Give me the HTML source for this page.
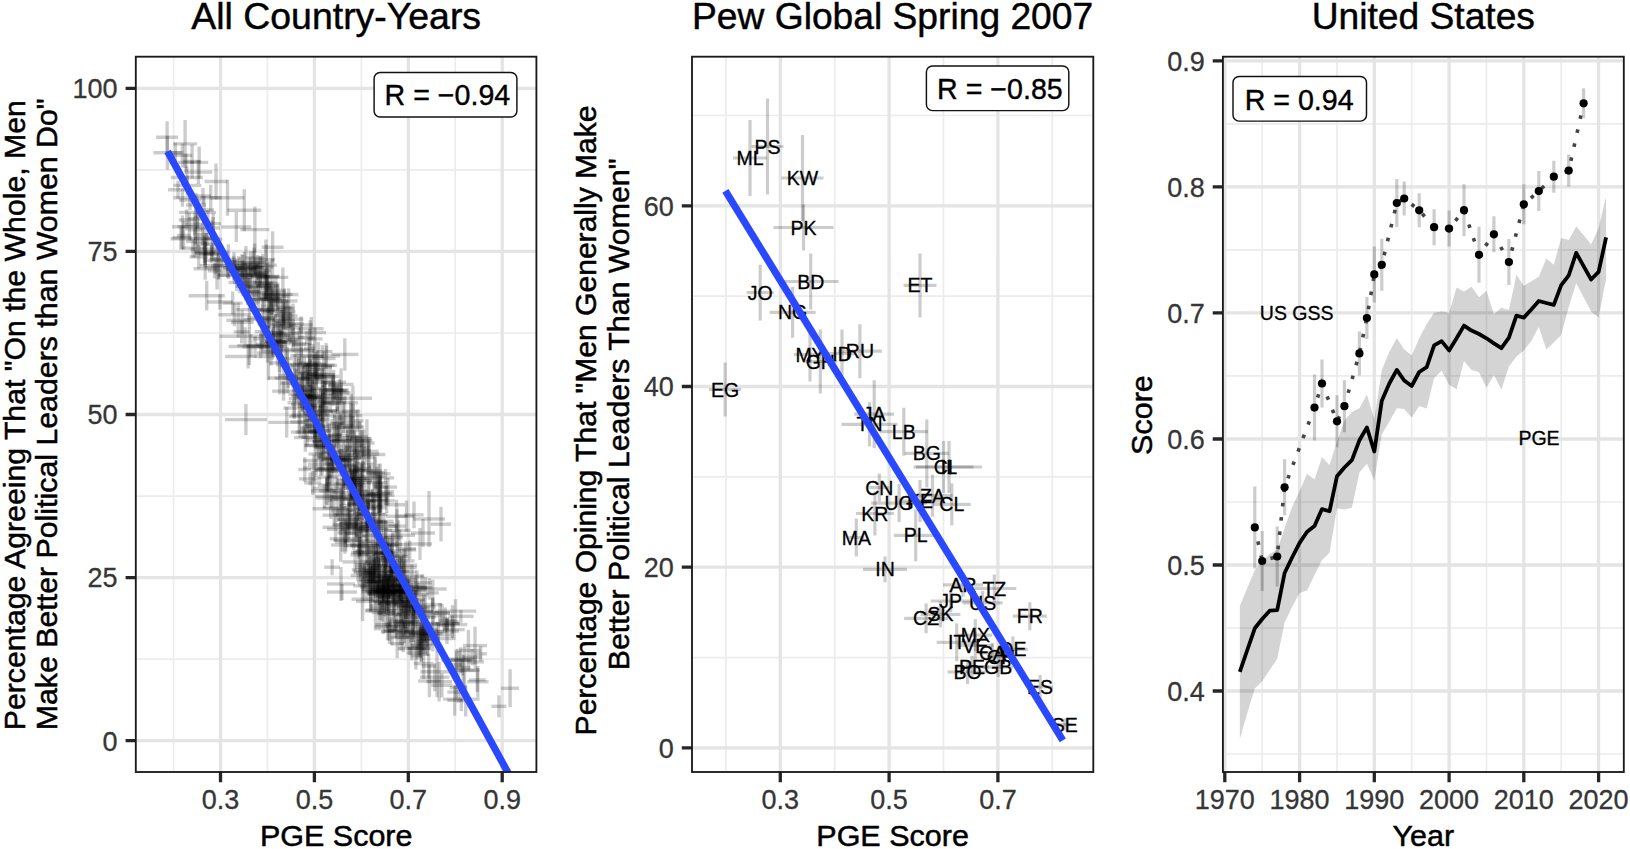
<!DOCTYPE html>
<html lang="en"><head><meta charset="utf-8"><title>Figure</title>
<style>html,body{margin:0;padding:0;background:#fff}svg{display:block}text{stroke-linejoin:round}.b8{stroke:#000;stroke-width:.45px}.b7{stroke:#000;stroke-width:.5px}.b6{stroke:#000;stroke-width:.4px}.bt{stroke-width:.3px}.b4{stroke:#000;stroke-width:.3px}</style></head>
<body>
<svg width="1630" height="849" viewBox="0 0 1630 849" font-family='"Liberation Sans", Arial, Helvetica, sans-serif'>
<rect width="1630" height="849" fill="#fff"/>
<clipPath id="c1"><rect x="135.8" y="56.7" width="400.6" height="715.3"/></clipPath>
<g clip-path="url(#c1)">
<path d="M173.6 56.7V772M267.5 56.7V772M361.4 56.7V772M455.2 56.7V772M135.8 659.2H536.5M135.8 496.1H536.5M135.8 333H536.5M135.8 169.9H536.5" stroke="#ececec" stroke-width="1.7" fill="none"/>
<path d="M220.5 56.7V772M314.4 56.7V772M408.3 56.7V772M502.2 56.7V772M135.8 740.7H536.5M135.8 577.6H536.5M135.8 414.5H536.5M135.8 251.4H536.5M135.8 88.3H536.5" stroke="#e4e4e4" stroke-width="3.3" fill="none"/>
</g>
<g clip-path="url(#c1)" stroke="#000" stroke-opacity="0.2" stroke-width="3.4" fill="none">
<path d="M156.1 137.3h22"/><path d="M167.1 121.3v32"/>
<path d="M153.4 152.7h28"/><path d="M167.4 135.7v34"/>
<path d="M173.1 143.9h24"/><path d="M185.1 119.9v48"/>
<path d="M167.4 152.7h16"/><path d="M175.4 142.7v20"/>
<path d="M172.4 155.4h20"/><path d="M182.4 143.4v24"/>
<path d="M183.1 161.5h18"/><path d="M192.1 144.5v34"/>
<path d="M190.2 162.4h18"/><path d="M199.2 146.4v32"/>
<path d="M178 162.4h16"/><path d="M186 153.4v18"/>
<path d="M184.3 172.1h28"/><path d="M198.3 160.1v24"/>
<path d="M170.8 177.5h32"/><path d="M186.8 166.5v22"/>
<path d="M173.3 185.4h28"/><path d="M187.3 175.4v20"/>
<path d="M168 189.8h20"/><path d="M178 180.8v18"/>
<path d="M173.4 197.8h18"/><path d="M182.4 188.8v18"/>
<path d="M204.5 181.5h23"/><path d="M216 163.5v36"/>
<path d="M210.5 197.8h34"/><path d="M227.5 179.8v36"/>
<path d="M227.3 210.2h34"/><path d="M244.3 189.2v42"/>
<path d="M240.4 229.6h29"/><path d="M254.9 206.6v46"/>
<path d="M221.3 227h30"/><path d="M236.3 212v30"/>
<path d="M199.7 197.8h22"/><path d="M210.7 184.8v26"/>
<path d="M195 196h16"/><path d="M203 188v16"/>
<path d="M261.6 247.3h22"/><path d="M272.6 231.3v32"/>
<path d="M186 205h20"/><path d="M196 193v24"/>
<path d="M194 210h20"/><path d="M204 196v28"/>
<path d="M179 200h22"/><path d="M190 190v20"/>
<path d="M176.8 235.5h13.6"/><path d="M183.6 221.5v28.1"/>
<path d="M171.9 226.8h21.3"/><path d="M182.5 215.6v22.4"/>
<path d="M179.1 212.4h37"/><path d="M197.6 196.3v32.2"/>
<path d="M190.4 249.2h27.9"/><path d="M204.4 235.7v27"/>
<path d="M188.3 229.7h14.3"/><path d="M195.4 215.7v28"/>
<path d="M189.2 238.5h17.1"/><path d="M197.8 229.4v18.1"/>
<path d="M225.5 269.5h19.2"/><path d="M235.2 260v18.9"/>
<path d="M206.4 238.3h11.2"/><path d="M212 220.5v35.5"/>
<path d="M205 267.6h23.9"/><path d="M217 245.7v43.9"/>
<path d="M207.9 270.7h13.4"/><path d="M214.6 263v15.4"/>
<path d="M170.6 238.7h20.8"/><path d="M180.9 227.8v21.8"/>
<path d="M195.8 228h24"/><path d="M207.8 210.1v35.7"/>
<path d="M185.4 224.1h18.8"/><path d="M194.8 212.8v22.7"/>
<path d="M181.8 248.1h22.3"/><path d="M193 238.5v19.2"/>
<path d="M172.6 237.7h18.9"/><path d="M182 226.2v23"/>
<path d="M186.1 241.5h18.2"/><path d="M195.2 225.4v32.2"/>
<path d="M178.7 220h15.9"/><path d="M186.7 209.4v21.2"/>
<path d="M193.6 268.8h23.1"/><path d="M205.2 257.8v22"/>
<path d="M206.1 260.3h24.2"/><path d="M218.3 240.9v38.8"/>
<path d="M205.4 223.6h15.6"/><path d="M213.2 213.3v20.7"/>
<path d="M187.9 218.8h19.3"/><path d="M197.5 208.9v19.8"/>
<path d="M195.1 253.3h20.2"/><path d="M205.2 241.9v22.9"/>
<path d="M204.1 239.1h18.1"/><path d="M213.1 216.9v44.4"/>
<path d="M177.3 226.6h24.1"/><path d="M189.3 212.7v27.9"/>
<path d="M195 252.8h33.6"/><path d="M211.8 246.3v13"/>
<path d="M194.2 251.9h21.7"/><path d="M205.1 238.8v26.3"/>
<path d="M203.4 254.1h16.1"/><path d="M211.4 244.7v18.7"/>
<path d="M196.9 234.6h11.2"/><path d="M202.5 223.5v22.1"/>
<path d="M193.3 244.1h25.4"/><path d="M206.1 233.1v22"/>
<path d="M209.9 259.4h23.6"/><path d="M221.7 252.9v13"/>
<path d="M189.4 256.9h18.7"/><path d="M198.7 245v23.8"/>
<path d="M221.8 261.7h13.1"/><path d="M228.4 244.3v34.8"/>
<path d="M194 238.3h20.6"/><path d="M204.3 226.4v23.9"/>
<path d="M199 254.1h12.3"/><path d="M205.2 241v26.2"/>
<path d="M224.6 262.7h18.8"/><path d="M234 252.2v20.9"/>
<path d="M227.3 268.3h24.8"/><path d="M239.7 257.6v21.3"/>
<path d="M199.7 265.6h31.2"/><path d="M215.3 257.1v17.1"/>
<path d="M229 270.7h11"/><path d="M234.5 257.5v26.4"/>
<path d="M232.5 268.7h23.8"/><path d="M244.4 251.7v34"/>
<path d="M211 265.7h15.4"/><path d="M218.7 252.5v26.3"/>
<path d="M218.5 275.3h48.8"/><path d="M242.9 254.8v41.1"/>
<path d="M223.1 268h20.9"/><path d="M233.6 255.8v24.4"/>
<path d="M230.3 267.4h31.3"/><path d="M245.9 245.9v42.9"/>
<path d="M220.5 271.3h14.5"/><path d="M227.8 264.6v13.4"/>
<path d="M228.7 346.5h41.1"/><path d="M249.3 327.8v37.3"/>
<path d="M237.3 345.6h27.4"/><path d="M250.9 334.2v22.9"/>
<path d="M230.9 322.2h22.7"/><path d="M242.2 310.2v24"/>
<path d="M242.4 347h25.5"/><path d="M255.1 336.2v21.6"/>
<path d="M254.9 331.6h18.2"/><path d="M264 321v21.4"/>
<path d="M219.4 336.3h51.3"/><path d="M245.1 327.2v18.2"/>
<path d="M225.2 356.5h45.9"/><path d="M248.1 344.5v24"/>
<path d="M218.3 314.7h32.1"/><path d="M234.3 303.3v22.9"/>
<path d="M257 353.1h22.8"/><path d="M268.4 325.9v54.2"/>
<path d="M207.1 302h25.5"/><path d="M219.9 294.4v15.2"/>
<path d="M226.4 320.2h23.6"/><path d="M238.2 302.8v34.8"/>
<path d="M233.8 331.9h15.8"/><path d="M241.7 320.3v23.3"/>
<path d="M246.8 346h27.8"/><path d="M260.7 334v24"/>
<path d="M188.6 295.7h36.2"/><path d="M206.7 280.8v29.8"/>
<path d="M222.8 303.1h19.8"/><path d="M232.7 291.5v23.1"/>
<path d="M236.3 309.6h26.3"/><path d="M249.5 290.9v37.4"/>
<path d="M320.9 458.7h17.1"/><path d="M329.5 433.5v50.4"/>
<path d="M275.6 323.7h28.3"/><path d="M289.8 306.6v34.3"/>
<path d="M343.4 484.8h17.1"/><path d="M352 472.2v25.1"/>
<path d="M382.9 537.5h20"/><path d="M392.9 531v13"/>
<path d="M310.7 374.9h23.9"/><path d="M322.6 362.4v25"/>
<path d="M377.4 613.9h24.6"/><path d="M389.7 600.6v26.6"/>
<path d="M396.8 623.7h21.5"/><path d="M407.6 609.2v29"/>
<path d="M250.9 292.9h30.4"/><path d="M266.1 286.4v13"/>
<path d="M225.1 265.6h33.1"/><path d="M241.7 254.6v22"/>
<path d="M358.8 552.3h34.2"/><path d="M375.9 530.5v43.6"/>
<path d="M408.8 609.5h14.8"/><path d="M416.2 599.4v20.2"/>
<path d="M364.3 561.5h27.7"/><path d="M378.1 543.8v35.4"/>
<path d="M357 582h26.2"/><path d="M370.1 568.7v26.5"/>
<path d="M352 527h17.5"/><path d="M360.7 520.5v13"/>
<path d="M430.8 524.2h20.3"/><path d="M441 506.9v34.5"/>
<path d="M259.3 334.9h28.2"/><path d="M273.4 323v23.8"/>
<path d="M373.6 553.4h24.2"/><path d="M385.8 536.4v34"/>
<path d="M350.8 436.8h17.3"/><path d="M359.5 421.3v31.2"/>
<path d="M341.2 486.7h21.5"/><path d="M352 473.6v26.2"/>
<path d="M363.5 570.7h14.4"/><path d="M370.7 555.6v30.1"/>
<path d="M300.2 391.6h13.1"/><path d="M306.8 374.2v34.8"/>
<path d="M259.7 321h14.8"/><path d="M267.1 308.4v25.2"/>
<path d="M386.5 567.6h30.2"/><path d="M401.5 548.8v37.6"/>
<path d="M367.6 528.1h20.7"/><path d="M378 517.9v20.6"/>
<path d="M415.3 638.4h24.4"/><path d="M427.5 621.2v34.4"/>
<path d="M260 298.4h21.9"/><path d="M271 281.7v33.5"/>
<path d="M396.9 585.1h16.5"/><path d="M405.1 570.6v29"/>
<path d="M323.3 458.1h17.6"/><path d="M332.1 446.4v23.4"/>
<path d="M243.1 262.3h21"/><path d="M253.6 250.9v22.7"/>
<path d="M371.8 521.5h14.5"/><path d="M379 503.2v36.5"/>
<path d="M298.9 328.7h24.7"/><path d="M311.3 317v23.5"/>
<path d="M393.1 621.8h25.2"/><path d="M405.7 610.9v21.8"/>
<path d="M374.5 581.3h36.3"/><path d="M392.6 566.3v29.9"/>
<path d="M366.8 493.5h23.6"/><path d="M378.6 480.1v26.8"/>
<path d="M389.4 586.4h11.9"/><path d="M395.3 573.3v26.2"/>
<path d="M346.9 509.4h14.4"/><path d="M354.1 502.9v13"/>
<path d="M384.7 602h26.9"/><path d="M398.2 595.5v13"/>
<path d="M361.4 543.4h28.4"/><path d="M375.6 526.3v34.1"/>
<path d="M289.4 324.9h23.4"/><path d="M301.1 316.2v17.3"/>
<path d="M241.3 291.4h22.3"/><path d="M252.5 275.7v31.4"/>
<path d="M350.5 554.9h17.7"/><path d="M359.3 537v35.8"/>
<path d="M330.7 428h18.8"/><path d="M340.1 414.7v26.5"/>
<path d="M375.3 577.9h20.1"/><path d="M385.3 564.8v26.1"/>
<path d="M335.8 459.6h18.6"/><path d="M345 443.7v31.9"/>
<path d="M349.5 502.6h20.3"/><path d="M359.6 486.1v33.1"/>
<path d="M228.5 282.5h28.3"/><path d="M242.6 271v22.9"/>
<path d="M332.9 390.8h13.5"/><path d="M339.6 379.2v23.2"/>
<path d="M371.8 612.6h14.8"/><path d="M379.1 594.7v35.9"/>
<path d="M337 427.2h27.2"/><path d="M350.6 413.8v26.9"/>
<path d="M276.4 307.4h15.3"/><path d="M284 290.7v33.4"/>
<path d="M292.8 376.7h33.3"/><path d="M309.4 369.9v13.6"/>
<path d="M351.8 569.9h17"/><path d="M360.3 563.4v13"/>
<path d="M235.5 286.4h26.6"/><path d="M248.7 277.9v17"/>
<path d="M373.2 593.1h21.2"/><path d="M383.8 583.8v18.6"/>
<path d="M350.8 546h18.3"/><path d="M360 536.6v18.8"/>
<path d="M390.5 571.4h18.9"/><path d="M400 560.7v21.4"/>
<path d="M411.4 645.5h17.8"/><path d="M420.3 634.5v22"/>
<path d="M291.4 395.7h21.3"/><path d="M302.1 380.5v30.5"/>
<path d="M349.6 491.8h23.9"/><path d="M361.5 484v15.6"/>
<path d="M372.5 570.8h27.5"/><path d="M386.3 556.9v27.9"/>
<path d="M417.1 639.3h14.7"/><path d="M424.4 622.5v33.6"/>
<path d="M237.3 275.6h15.9"/><path d="M245.3 263v25.2"/>
<path d="M318.2 389.6h14.5"/><path d="M325.4 375.7v27.6"/>
<path d="M324.2 567.2h15.7"/><path d="M332.1 559.2v16.1"/>
<path d="M368.5 493.8h23.9"/><path d="M380.4 475.3v37"/>
<path d="M365.4 577.6h14.6"/><path d="M372.7 564.7v25.9"/>
<path d="M346.1 545.8h33.9"/><path d="M363 538.6v14.4"/>
<path d="M396.7 605.7h19"/><path d="M406.3 592.1v27.1"/>
<path d="M390.4 637.5h25.5"/><path d="M403.2 622.8v29.4"/>
<path d="M358.4 454.3h20.7"/><path d="M368.8 436.6v35.4"/>
<path d="M311.3 407.7h17"/><path d="M319.8 394.2v26.9"/>
<path d="M411.3 629.9h26.6"/><path d="M424.6 620.4v19"/>
<path d="M385.9 516.3h21.5"/><path d="M396.6 499.8v33.1"/>
<path d="M269.1 324.7h26.6"/><path d="M282.4 315.4v18.6"/>
<path d="M305.7 415.9h29.9"/><path d="M320.6 404.8v22.2"/>
<path d="M353.8 476.3h30.4"/><path d="M369 463.2v26.2"/>
<path d="M304 348.3h11"/><path d="M309.5 328.9v38.8"/>
<path d="M271.5 340.2h19.9"/><path d="M281.4 323.6v33.2"/>
<path d="M395.5 634.8h11"/><path d="M401 619.2v31.3"/>
<path d="M362.6 572.7h12.8"/><path d="M369 563.5v18.4"/>
<path d="M365.7 610h19.7"/><path d="M375.5 589.5v41"/>
<path d="M401.7 607.4h25.6"/><path d="M414.5 593.4v27.9"/>
<path d="M366.5 473.8h24.1"/><path d="M378.6 463.7v20.2"/>
<path d="M238.3 291.6h22.4"/><path d="M249.5 277.8v27.7"/>
<path d="M308 464.4h25.3"/><path d="M320.7 452.7v23.4"/>
<path d="M275.1 314h16.4"/><path d="M283.3 302v24"/>
<path d="M408.9 594.8h19.4"/><path d="M418.6 583v23.6"/>
<path d="M379.4 553h15.7"/><path d="M387.2 539.5v27.1"/>
<path d="M265.5 342h21.6"/><path d="M276.3 335.5v13"/>
<path d="M370 605.8h24.2"/><path d="M382.1 590.2v31.3"/>
<path d="M332.7 467h25.8"/><path d="M345.6 455.5v22.9"/>
<path d="M364.8 563.2h15.9"/><path d="M372.7 543.8v38.8"/>
<path d="M238.7 287.8h18.2"/><path d="M247.8 270.7v34.2"/>
<path d="M291.8 344.4h18.8"/><path d="M301.2 324.9v39"/>
<path d="M317.8 468.6h29"/><path d="M332.3 454.7v27.8"/>
<path d="M392.6 594.4h13.1"/><path d="M399.2 587.9v13"/>
<path d="M303.8 397.2h17.3"/><path d="M312.5 379.8v34.7"/>
<path d="M264.9 340.9h17.2"/><path d="M273.5 324.2v33.4"/>
<path d="M347.8 504.5h22.2"/><path d="M358.9 492.7v23.7"/>
<path d="M316.1 498h31"/><path d="M331.6 488v20"/>
<path d="M266.4 341.7h30.2"/><path d="M281.6 331.3v20.9"/>
<path d="M332.7 492.6h22"/><path d="M343.7 480.2v24.7"/>
<path d="M366.1 477.9h28.1"/><path d="M380.2 463.6v28.6"/>
<path d="M346 488.2h11"/><path d="M351.5 478.1v20.1"/>
<path d="M296.9 378.2h11"/><path d="M302.4 364.1v28.2"/>
<path d="M313.9 447.7h19.7"/><path d="M323.7 434.7v26"/>
<path d="M317.8 485.1h17.8"/><path d="M326.7 478.6v13"/>
<path d="M290.2 355.7h22.3"/><path d="M301.4 346.7v18"/>
<path d="M302.5 396.1h14.9"/><path d="M310 384.9v22.4"/>
<path d="M362.3 507.9h24.4"/><path d="M374.5 489.4v37.1"/>
<path d="M384.9 624.3h55.5"/><path d="M412.7 613.2v22.1"/>
<path d="M347 528.4h19.9"/><path d="M357 514.6v27.7"/>
<path d="M341.3 431.8h13.1"/><path d="M347.8 423.7v16.4"/>
<path d="M344.3 447.5h24.8"/><path d="M356.7 435.8v23.4"/>
<path d="M273 326.1h21.6"/><path d="M283.8 308.4v35.5"/>
<path d="M312.8 356.4h11"/><path d="M318.3 341.9v29"/>
<path d="M406.8 603.3h16"/><path d="M414.8 595.2v16.2"/>
<path d="M381 631.2h21.8"/><path d="M392 617.2v28.1"/>
<path d="M325.7 458.1h35.3"/><path d="M343.4 440v36.3"/>
<path d="M395.9 579.7h11"/><path d="M401.4 558.4v42.6"/>
<path d="M398.4 516.2h16.2"/><path d="M406.5 500.6v31.2"/>
<path d="M367.5 573.4h23"/><path d="M379 563.9v19"/>
<path d="M391.3 572h25.3"/><path d="M403.9 548.7v46.5"/>
<path d="M349.8 497.3h16.3"/><path d="M357.9 477.9v38.7"/>
<path d="M408.7 634.7h24.9"/><path d="M421.1 626.2v17"/>
<path d="M253.2 338.8h18"/><path d="M262.2 328.1v21.4"/>
<path d="M388.8 630.9h12.8"/><path d="M395.2 623.9v14.1"/>
<path d="M326.4 424h16.1"/><path d="M334.4 414.3v19.4"/>
<path d="M353.3 513.8h19.1"/><path d="M362.9 507.3v13"/>
<path d="M381.4 594.9h11"/><path d="M386.9 578.4v33.2"/>
<path d="M390.5 643.7h13.5"/><path d="M397.2 629.2v29"/>
<path d="M282.6 319.2h20.9"/><path d="M293 303.6v31.1"/>
<path d="M322.5 527.3h26"/><path d="M335.5 513.5v27.8"/>
<path d="M368.6 592.5h36.6"/><path d="M386.9 574v36.9"/>
<path d="M376.2 556.6h21.1"/><path d="M386.8 545.9v21.3"/>
<path d="M331.7 510.4h21.3"/><path d="M342.4 490v40.9"/>
<path d="M342 411.1h18.3"/><path d="M351.1 394.1v34"/>
<path d="M350 544.8h18.6"/><path d="M359.3 532.7v24.2"/>
<path d="M324.5 390.1h24.5"/><path d="M336.8 382.4v15.5"/>
<path d="M305.5 425.8h19.2"/><path d="M315.1 414.9v21.7"/>
<path d="M290.9 432.1h25.6"/><path d="M303.7 425.6v13"/>
<path d="M356.8 469.1h11.8"/><path d="M362.7 461.1v16"/>
<path d="M251.3 294.9h28.8"/><path d="M265.7 288.4v13"/>
<path d="M387.3 630.1h26.7"/><path d="M400.6 615.2v29.8"/>
<path d="M360.9 522.4h26.7"/><path d="M374.3 507.2v30.4"/>
<path d="M369.9 501h17.6"/><path d="M378.7 488.7v24.5"/>
<path d="M393.7 622.8h20"/><path d="M403.7 608.9v27.7"/>
<path d="M256.9 346.5h30.6"/><path d="M272.2 333.4v26.2"/>
<path d="M312.6 376.9h22.6"/><path d="M324 365.8v22.1"/>
<path d="M366.6 482.7h20.8"/><path d="M377 466.8v31.7"/>
<path d="M261.6 351.9h18.8"/><path d="M271 338.1v27.5"/>
<path d="M255.7 265.2h21.2"/><path d="M266.3 244.5v41.4"/>
<path d="M337 519.1h26.3"/><path d="M350.1 510.4v17.4"/>
<path d="M343.4 426.5h19.3"/><path d="M353.1 415.9v21.2"/>
<path d="M301.3 437.3h31"/><path d="M316.8 428.2v18.2"/>
<path d="M359.2 514.3h28.4"/><path d="M373.4 504.4v19.8"/>
<path d="M322.5 515.2h31.2"/><path d="M338.1 508.7v13"/>
<path d="M328.4 384.4h25.2"/><path d="M341.1 368.3v32.2"/>
<path d="M260.9 306h16.8"/><path d="M269.4 283.3v45.4"/>
<path d="M338.5 457.9h22.7"/><path d="M349.8 445.8v24.3"/>
<path d="M329.2 459.7h20.4"/><path d="M339.4 448.3v22.8"/>
<path d="M383.3 631.3h11"/><path d="M388.8 621.8v19"/>
<path d="M349.9 438.7h21.8"/><path d="M360.8 430.3v17"/>
<path d="M348.5 445.9h17"/><path d="M357 435.3v21.2"/>
<path d="M266.4 335.8h23.7"/><path d="M278.2 326.1v19.4"/>
<path d="M349.2 470.6h16.5"/><path d="M357.4 459.1v23.1"/>
<path d="M360.2 587.1h18.6"/><path d="M369.5 578.7v16.7"/>
<path d="M403.1 549.9h13.2"/><path d="M409.7 540.5v18.8"/>
<path d="M409 640.6h22.9"/><path d="M420.5 622.7v35.9"/>
<path d="M294.3 332.6h31.7"/><path d="M310.2 320.3v24.6"/>
<path d="M329.6 538.8h25.6"/><path d="M342.4 525.8v25.9"/>
<path d="M292 379.4h30.6"/><path d="M307.3 362.9v33"/>
<path d="M356.3 579.3h33.9"/><path d="M373.2 563v32.6"/>
<path d="M370.7 568.2h15.5"/><path d="M378.4 556.8v22.9"/>
<path d="M397.4 632.9h25.2"/><path d="M410 610.7v44.4"/>
<path d="M402.1 582.8h29.7"/><path d="M417 570.4v24.6"/>
<path d="M376.8 575.6h16.6"/><path d="M385.1 562.6v26"/>
<path d="M324.5 440.6h24"/><path d="M336.5 425v31.3"/>
<path d="M395.8 548.8h20.1"/><path d="M405.9 541.4v14.8"/>
<path d="M343.2 498.9h23.5"/><path d="M354.9 485.5v26.8"/>
<path d="M404.1 617.2h31.7"/><path d="M420 608.1v18.2"/>
<path d="M261.3 301.8h21.5"/><path d="M272.1 288.4v26.8"/>
<path d="M330.7 499.6h22.1"/><path d="M341.7 484.4v30.3"/>
<path d="M317 469h20.2"/><path d="M327.1 447.4v43.2"/>
<path d="M302.4 366.9h29.6"/><path d="M317.2 350.5v32.8"/>
<path d="M291.8 390.1h20.2"/><path d="M301.9 372.2v35.8"/>
<path d="M303 407.2h13.8"/><path d="M309.9 393.9v26.6"/>
<path d="M306.4 426.5h34.1"/><path d="M323.5 415.9v21.2"/>
<path d="M395.1 589.4h11"/><path d="M400.6 577.9v23"/>
<path d="M331.6 412.2h25.7"/><path d="M344.5 395.7v32.9"/>
<path d="M281.5 327.9h18.2"/><path d="M290.6 312.3v31.2"/>
<path d="M315 401.9h16"/><path d="M323.1 390.4v23.1"/>
<path d="M414 641.8h14.9"/><path d="M421.5 621.7v40.1"/>
<path d="M249.7 270.8h21.1"/><path d="M260.2 256.3v29"/>
<path d="M300.2 428.3h28.9"/><path d="M314.7 418.6v19.5"/>
<path d="M308.4 377h15.4"/><path d="M316 363.1v27.9"/>
<path d="M316.9 411h20.1"/><path d="M327 394.8v32.4"/>
<path d="M366.6 472.9h16.2"/><path d="M374.7 455.5v34.8"/>
<path d="M375.2 624.7h16.1"/><path d="M383.2 615.1v19.1"/>
<path d="M355.1 495.6h26.1"/><path d="M368.2 481.8v27.5"/>
<path d="M311.5 414.8h18.3"/><path d="M320.6 405.3v19.1"/>
<path d="M332.2 496.9h11"/><path d="M337.7 478.3v37.1"/>
<path d="M351 552.6h31.7"/><path d="M366.9 521.2v62.8"/>
<path d="M314.9 496.3h18.9"/><path d="M324.4 484.3v24"/>
<path d="M394.3 603.7h19.8"/><path d="M404.2 585.9v35.6"/>
<path d="M405.7 606.7h16.1"/><path d="M413.7 597.5v18.5"/>
<path d="M328.2 402.9h18.1"/><path d="M337.3 394.6v16.5"/>
<path d="M280.2 383.1h14.8"/><path d="M287.6 372.8v20.8"/>
<path d="M410.7 645.2h20.7"/><path d="M421.1 628.9v32.8"/>
<path d="M372.7 565.8h22.6"/><path d="M384 549.1v33.5"/>
<path d="M389.8 605.1h23.1"/><path d="M401.4 588.9v32.4"/>
<path d="M390.8 572.4h11"/><path d="M396.3 563.1v18.6"/>
<path d="M269.6 362.9h19.8"/><path d="M279.5 353.6v18.7"/>
<path d="M355.8 550.9h22.2"/><path d="M366.9 538.8v24.2"/>
<path d="M287.5 402.8h13.5"/><path d="M294.2 386.3v33"/>
<path d="M341.6 472.5h20.8"/><path d="M352 463.1v18.7"/>
<path d="M417.5 644.1h20.3"/><path d="M427.7 632.1v24"/>
<path d="M372 483.9h11.5"/><path d="M377.7 474.7v18.4"/>
<path d="M327 436.2h14.1"/><path d="M334 421.9v28.6"/>
<path d="M351.7 420.7h11.9"/><path d="M357.6 409.7v22.1"/>
<path d="M378.9 544.9h13.2"/><path d="M385.5 528.1v33.6"/>
<path d="M253 282.6h11"/><path d="M258.5 261.6v41.9"/>
<path d="M390.5 583.7h15.5"/><path d="M398.3 570.2v27"/>
<path d="M283.4 408.1h21.6"/><path d="M294.2 398.7v18.7"/>
<path d="M398.6 632.1h11.6"/><path d="M404.4 620.9v22.4"/>
<path d="M304.5 424.3h11"/><path d="M310 415.7v17.2"/>
<path d="M379.9 555.4h19.8"/><path d="M389.8 538.4v33.8"/>
<path d="M255 282.9h18.8"/><path d="M264.4 269v27.8"/>
<path d="M377.8 591.1h22.5"/><path d="M389.1 576.3v29.7"/>
<path d="M355.4 536.6h11"/><path d="M360.9 520.8v31.5"/>
<path d="M345.3 533.4h17.1"/><path d="M353.8 516.6v33.6"/>
<path d="M381.2 589h32.7"/><path d="M397.6 573.9v30.2"/>
<path d="M314.3 397.2h21.4"/><path d="M325 381.3v31.8"/>
<path d="M329.1 471.3h29.8"/><path d="M344 457.5v27.7"/>
<path d="M301 395.5h18.5"/><path d="M310.3 384.6v21.9"/>
<path d="M290.4 365h28.2"/><path d="M304.5 356.9v16.1"/>
<path d="M400.1 611.1h15.5"/><path d="M407.8 596v30.3"/>
<path d="M341.5 437.7h20.1"/><path d="M351.5 423.7v28"/>
<path d="M361.7 470.8h20.4"/><path d="M371.9 462.4v16.8"/>
<path d="M368.4 504.8h36.6"/><path d="M386.7 496.7v16.3"/>
<path d="M386.8 610.9h24.2"/><path d="M398.8 594.6v32.7"/>
<path d="M265 346.4h18.8"/><path d="M274.4 339.9v13"/>
<path d="M293.1 387h19.8"/><path d="M303 372.9v28.3"/>
<path d="M271.8 301h25.7"/><path d="M284.6 288.6v24.8"/>
<path d="M386.2 556.5h22"/><path d="M397.2 541.1v30.9"/>
<path d="M304.5 364.4h22.2"/><path d="M315.6 351.9v25"/>
<path d="M339 455.3h20.9"/><path d="M349.5 438.9v32.8"/>
<path d="M339.6 522.1h29.5"/><path d="M354.3 509.9v24.4"/>
<path d="M303 467.9h22"/><path d="M314 454.6v26.6"/>
<path d="M331.4 434.6h11"/><path d="M336.9 421.6v26"/>
<path d="M331.4 354.4h26.9"/><path d="M344.8 338.2v32.5"/>
<path d="M388.7 578.2h22"/><path d="M399.7 556.7v42.9"/>
<path d="M241.8 262.8h24.3"/><path d="M254 247.6v30.5"/>
<path d="M272 321h23"/><path d="M283.5 312.6v16.9"/>
<path d="M303.2 419.8h26.7"/><path d="M316.5 410.4v18.7"/>
<path d="M345.4 523.9h22.1"/><path d="M356.4 511.6v24.7"/>
<path d="M288.8 398.8h27.9"/><path d="M302.8 385.6v26.4"/>
<path d="M385.7 590.2h15.9"/><path d="M393.6 565.1v50"/>
<path d="M355 564.6h28.3"/><path d="M369.1 546.2v36.9"/>
<path d="M302 397h20.2"/><path d="M312.1 388.3v17.4"/>
<path d="M394.8 591.7h26"/><path d="M407.7 578.7v26.1"/>
<path d="M409.1 635.4h29.3"/><path d="M423.7 628.9v13"/>
<path d="M307.5 374.3h23.8"/><path d="M319.4 367.8v13"/>
<path d="M338.2 474.8h13.4"/><path d="M344.9 468.3v13"/>
<path d="M245.3 258h18.6"/><path d="M254.6 243.6v29"/>
<path d="M240.6 277.6h11.7"/><path d="M246.5 269.4v16.5"/>
<path d="M292.3 343.9h13.8"/><path d="M299.2 327.5v32.8"/>
<path d="M362.4 535.3h16.3"/><path d="M370.6 523.8v23.1"/>
<path d="M353.6 508.5h11"/><path d="M359.1 495.8v25.5"/>
<path d="M391.8 608.4h18.6"/><path d="M401.1 594.4v28"/>
<path d="M274.1 321.2h12.1"/><path d="M280.1 301.7v39"/>
<path d="M249.8 309.7h28.9"/><path d="M264.2 294.2v31"/>
<path d="M352.7 443.1h21.9"/><path d="M363.6 429.4v27.5"/>
<path d="M335.7 460.6h21.5"/><path d="M346.5 445.1v31"/>
<path d="M247 318h44.1"/><path d="M269 305.8v24.5"/>
<path d="M365.7 472.4h19.1"/><path d="M375.2 457v30.7"/>
<path d="M379.3 567.7h23.6"/><path d="M391.1 553.2v28.9"/>
<path d="M320.4 452.3h27.1"/><path d="M333.9 434.6v35.5"/>
<path d="M378.6 495.3h15.9"/><path d="M386.6 485.7v19.2"/>
<path d="M330.3 423.5h14.1"/><path d="M337.4 406.6v33.9"/>
<path d="M298.3 363h22.8"/><path d="M309.7 355.8v14.5"/>
<path d="M322.3 389.9h21.3"/><path d="M333 378v23.8"/>
<path d="M380.7 557.9h22.4"/><path d="M391.9 543.8v28.3"/>
<path d="M349.5 469.5h11"/><path d="M355 447.6v43.9"/>
<path d="M414 611.6h19.6"/><path d="M423.9 595v33.2"/>
<path d="M419 628.8h11"/><path d="M424.5 614.5v28.5"/>
<path d="M275.6 333.7h23.3"/><path d="M287.3 327.2v13"/>
<path d="M279.4 311.7h16.1"/><path d="M287.5 300v23.3"/>
<path d="M327.7 398.8h19.1"/><path d="M337.2 386.6v24.4"/>
<path d="M344.6 541.3h29.6"/><path d="M359.4 526.5v29.6"/>
<path d="M374.1 487.1h23"/><path d="M385.6 468.9v36.6"/>
<path d="M351.5 599.2h22.1"/><path d="M362.6 577.2v43.9"/>
<path d="M304.4 420.3h14.5"/><path d="M311.6 405.5v29.6"/>
<path d="M312.4 441.6h33.1"/><path d="M329 427.6v28"/>
<path d="M258.2 283.2h17.1"/><path d="M266.7 267.5v31.3"/>
<path d="M337.9 519.3h21.8"/><path d="M348.7 499.6v39.4"/>
<path d="M252.2 273.1h16.4"/><path d="M260.5 256.4v33.5"/>
<path d="M268.3 422.4h36.9"/><path d="M286.7 407.1v30.6"/>
<path d="M320.7 382.1h25.4"/><path d="M333.4 372.8v18.5"/>
<path d="M316.1 365.4h20.9"/><path d="M326.6 345.6v39.6"/>
<path d="M284.5 368.1h20.3"/><path d="M294.6 354.4v27.5"/>
<path d="M288.5 394.6h21.7"/><path d="M299.4 380.9v27.4"/>
<path d="M260.1 309.6h22.3"/><path d="M271.3 301.8v15.6"/>
<path d="M325.5 390.1h17.5"/><path d="M334.2 381.2v17.7"/>
<path d="M352 491h15.2"/><path d="M359.6 476.9v28.2"/>
<path d="M342.1 465.7h13.6"/><path d="M348.9 453v25.3"/>
<path d="M235.7 273.5h28.8"/><path d="M250.1 257.2v32.4"/>
<path d="M243.8 319.5h31.1"/><path d="M259.4 313v13.1"/>
<path d="M330.3 420.6h21.7"/><path d="M341.1 414.1v13"/>
<path d="M388.7 621.3h14.2"/><path d="M395.8 614.8v13"/>
<path d="M251.8 267.1h21.7"/><path d="M262.7 253.8v26.7"/>
<path d="M312.1 351.6h20.4"/><path d="M322.3 345.1v13"/>
<path d="M295.7 394.9h19.8"/><path d="M305.6 380.3v29.2"/>
<path d="M422.8 604.6h19.3"/><path d="M432.5 598.1v13"/>
<path d="M226.5 266h23.5"/><path d="M238.3 256.3v19.4"/>
<path d="M336.4 525h22.4"/><path d="M347.6 507.6v34.8"/>
<path d="M337.2 480.4h12.6"/><path d="M343.5 464.2v32.5"/>
<path d="M332.7 524.8h24.9"/><path d="M345.1 506.2v37.2"/>
<path d="M374.5 544.2h27.6"/><path d="M388.3 537.7v13"/>
<path d="M259.5 298.9h20.9"/><path d="M270 292.4v13"/>
<path d="M374.7 626.9h25.9"/><path d="M387.6 613.7v26.5"/>
<path d="M409 633.4h26.4"/><path d="M422.2 616.4v34"/>
<path d="M380.3 572.2h21.1"/><path d="M390.8 556.4v31.5"/>
<path d="M310.9 491h31.4"/><path d="M326.6 477.2v27.6"/>
<path d="M384.1 630.6h11"/><path d="M389.6 617.2v26.8"/>
<path d="M377.7 535.2h37.4"/><path d="M396.4 523.4v23.6"/>
<path d="M304.1 365.2h11"/><path d="M309.6 343.4v43.6"/>
<path d="M308.1 410.6h29.1"/><path d="M322.7 392.9v35.3"/>
<path d="M267.3 294.6h31.1"/><path d="M282.9 267.4v54.4"/>
<path d="M360.2 508.6h15.7"/><path d="M368.1 489.3v38.7"/>
<path d="M308.5 454h27"/><path d="M322 433v42.1"/>
<path d="M407.9 648.4h23.1"/><path d="M419.5 641.9v13"/>
<path d="M268 378h23.4"/><path d="M279.7 361.5v32.9"/>
<path d="M342.9 478.7h23.5"/><path d="M354.6 465v27.4"/>
<path d="M388.5 526.1h17.1"/><path d="M397 509.3v33.6"/>
<path d="M255.7 276.5h23.4"/><path d="M267.4 262.2v28.6"/>
<path d="M337.2 532.8h16.2"/><path d="M345.3 518.4v28.8"/>
<path d="M359.7 554.2h19.1"/><path d="M369.3 544v20.4"/>
<path d="M340.1 423.3h21.5"/><path d="M350.9 402.8v41"/>
<path d="M347.2 463.8h21.1"/><path d="M357.8 449.5v28.5"/>
<path d="M351.3 494.4h26.6"/><path d="M364.6 486.1v16.6"/>
<path d="M272 333h13.9"/><path d="M279 318.3v29.5"/>
<path d="M385.9 626.7h21.2"/><path d="M396.5 618.5v16.5"/>
<path d="M321 376.5h18.4"/><path d="M330.2 364.7v23.7"/>
<path d="M409.6 633.1h21.2"/><path d="M420.2 626.6v13"/>
<path d="M377.2 612.8h18"/><path d="M386.2 596.9v31.7"/>
<path d="M261.5 318.1h12.9"/><path d="M267.9 307.4v21.3"/>
<path d="M396.9 613.2h11"/><path d="M402.4 596.9v32.8"/>
<path d="M340.8 480.6h31.4"/><path d="M356.5 461.4v38.4"/>
<path d="M356 601.4h29.1"/><path d="M370.6 592.1v18.7"/>
<path d="M346.4 488h17.1"/><path d="M354.9 469.6v36.6"/>
<path d="M333.4 540.4h23.4"/><path d="M345 527v26.8"/>
<path d="M298 373.1h11"/><path d="M303.5 366v14.1"/>
<path d="M339.7 478.5h29.7"/><path d="M354.6 464.4v28.1"/>
<path d="M306.4 440.1h17.6"/><path d="M315.3 432.1v16"/>
<path d="M273.6 342.1h14"/><path d="M280.6 329.6v24.9"/>
<path d="M361.7 568.4h17"/><path d="M370.2 555.8v25.2"/>
<path d="M350.7 500.2h22.7"/><path d="M362.1 480.6v39.3"/>
<path d="M416.9 636.2h19.7"/><path d="M426.7 629.7v13"/>
<path d="M424.1 638.6h28.6"/><path d="M438.4 625v27.2"/>
<path d="M365 500.4h16.8"/><path d="M373.4 492v16.7"/>
<path d="M390.7 544.7h18.3"/><path d="M399.8 529.7v29.9"/>
<path d="M277.5 350.9h37.1"/><path d="M296.1 337.5v26.9"/>
<path d="M302.9 460.6h26.2"/><path d="M316 444.1v32.9"/>
<path d="M335.7 515.3h28.1"/><path d="M349.7 501.4v27.7"/>
<path d="M302.8 431.5h24.4"/><path d="M315 419.3v24.5"/>
<path d="M399.6 576.2h24.6"/><path d="M411.9 564.2v23.9"/>
<path d="M323.9 393.8h25.2"/><path d="M336.5 386v15.5"/>
<path d="M434.9 631.2h24.2"/><path d="M447 618.3v25.7"/>
<path d="M299 478.9h22.3"/><path d="M310.2 472.4v13"/>
<path d="M396 614.5h17.7"/><path d="M404.9 601.2v26.5"/>
<path d="M333 417.3h20.8"/><path d="M343.4 401.6v31.4"/>
<path d="M327.1 529.3h38"/><path d="M346.1 521.1v16.4"/>
<path d="M244.5 299.6h19.6"/><path d="M254.2 287.2v24.8"/>
<path d="M297.9 337.9h17.2"/><path d="M306.6 331.4v13"/>
<path d="M291.2 415.2h17.6"/><path d="M300 392.3v45.7"/>
<path d="M394.7 587h13.2"/><path d="M401.3 580.5v13"/>
<path d="M300.1 390.9h17.2"/><path d="M308.7 378v25.6"/>
<path d="M301.3 375.9h22.2"/><path d="M312.4 368.1v15.6"/>
<path d="M343.8 415.5h18.5"/><path d="M353.1 404v22.9"/>
<path d="M282.8 308.3h11.8"/><path d="M288.7 288.4v39.7"/>
<path d="M313.5 398.7h14.8"/><path d="M320.8 388.8v19.8"/>
<path d="M246.9 267h16.8"/><path d="M255.3 257.4v19.2"/>
<path d="M363.3 506.5h19.1"/><path d="M372.9 488.6v35.9"/>
<path d="M362.9 495.7h16.5"/><path d="M371.1 489.2v13"/>
<path d="M307.3 374.2h18.1"/><path d="M316.4 367.7v13"/>
<path d="M344.5 441h20"/><path d="M354.5 427.5v26.9"/>
<path d="M352.4 454.5h32.9"/><path d="M368.8 440.4v28.1"/>
<path d="M320.1 403.5h20.5"/><path d="M330.4 394v18.9"/>
<path d="M296.2 396.7h16.7"/><path d="M304.6 384.7v24"/>
<path d="M352.9 552.3h11"/><path d="M358.4 545.4v13.8"/>
<path d="M254.3 310.4h16.2"/><path d="M262.4 298.4v24"/>
<path d="M328.6 435.6h21.8"/><path d="M339.5 422.9v25.3"/>
<path d="M371 496.3h16.9"/><path d="M379.4 477.2v38.2"/>
<path d="M362.9 565.7h23.3"/><path d="M374.6 554.2v23"/>
<path d="M361.4 440.5h11"/><path d="M366.9 419.2v42.6"/>
<path d="M325.6 483.9h21.1"/><path d="M336.1 466.9v33.9"/>
<path d="M402.8 606.3h16.4"/><path d="M411 588.9v34.8"/>
<path d="M302.5 413.1h11"/><path d="M308 396.8v32.6"/>
<path d="M337.7 450.7h19.3"/><path d="M347.4 435.1v31"/>
<path d="M274 315.8h23.5"/><path d="M285.8 301.7v28.2"/>
<path d="M316.7 403.1h12"/><path d="M322.7 385.1v36.1"/>
<path d="M315.9 447h11.2"/><path d="M321.5 435.9v22.2"/>
<path d="M295.5 432.1h23.4"/><path d="M307.2 418.7v26.8"/>
<path d="M364.5 581.1h21.2"/><path d="M375.1 559.7v42.7"/>
<path d="M388.1 614.8h13.3"/><path d="M394.8 598.5v32.6"/>
<path d="M356.4 530.6h19.8"/><path d="M366.3 520.1v21.1"/>
<path d="M404.4 631.2h26.7"/><path d="M417.8 613.5v35.3"/>
<path d="M356.8 504.1h13.2"/><path d="M363.4 497.6v13"/>
<path d="M304.1 445.5h28.6"/><path d="M318.4 431.1v28.8"/>
<path d="M359.3 526.4h37"/><path d="M377.9 506.8v39.2"/>
<path d="M386.3 530.5h24.3"/><path d="M398.5 520.3v20.4"/>
<path d="M382.1 564h18.8"/><path d="M391.6 551.1v25.8"/>
<path d="M339.6 505.5h21.7"/><path d="M350.4 499v13"/>
<path d="M302.5 356.4h20.6"/><path d="M312.8 344v24.8"/>
<path d="M288.9 416.4h31"/><path d="M304.4 399.6v33.6"/>
<path d="M407.7 599.7h11"/><path d="M413.2 586.9v25.6"/>
<path d="M298.2 469.5h13.1"/><path d="M304.8 457.1v24.8"/>
<path d="M359.6 514.4h17.4"/><path d="M368.3 505.3v18.2"/>
<path d="M290.9 385.9h11"/><path d="M296.4 369.1v33.6"/>
<path d="M311.8 382.5h21.2"/><path d="M322.4 368.6v27.9"/>
<path d="M348.5 494.9h24.6"/><path d="M360.8 479.2v31.4"/>
<path d="M359.3 501.4h16.5"/><path d="M367.6 494.1v14.6"/>
<path d="M340.4 523.3h18.4"/><path d="M349.6 511.8v22.9"/>
<path d="M266 290.4h19.8"/><path d="M275.9 276.2v28.5"/>
<path d="M404.3 587.3h23"/><path d="M415.8 574.6v25.3"/>
<path d="M345.9 526.4h21.8"/><path d="M356.8 511v30.8"/>
<path d="M304.1 482.9h17.2"/><path d="M312.7 471v23.9"/>
<path d="M256.8 277.4h31.4"/><path d="M272.5 258.7v37.5"/>
<path d="M343.3 498.8h11.7"/><path d="M349.2 490.4v16.8"/>
<path d="M312.7 441.6h21.3"/><path d="M323.3 426.6v30.1"/>
<path d="M342.4 478h24.2"/><path d="M354.5 468.9v18.3"/>
<path d="M328.1 385.8h11"/><path d="M333.6 369.9v31.8"/>
<path d="M282.5 337.4h22"/><path d="M293.5 327.3v20.2"/>
<path d="M388.4 593.3h15.2"/><path d="M396 580v26.6"/>
<path d="M259.5 294.4h33"/><path d="M276 281.7v25.4"/>
<path d="M293.9 437.6h22.8"/><path d="M305.3 423.5v28.2"/>
<path d="M366.3 500.9h28.5"/><path d="M380.5 489.5v22.9"/>
<path d="M286.6 340.2h13"/><path d="M293.1 328.2v24"/>
<path d="M342.5 561.9h25.3"/><path d="M355.1 550.1v23.4"/>
<path d="M343.9 482.9h16.5"/><path d="M352.2 471.9v22"/>
<path d="M374.2 553.5h16"/><path d="M382.2 547v13"/>
<path d="M330.5 460.4h21.6"/><path d="M341.3 444.4v31.9"/>
<path d="M395.7 586.8h22.9"/><path d="M407.1 574.6v24.3"/>
<path d="M306.7 397.4h11"/><path d="M312.2 379.5v35.8"/>
<path d="M397.7 648.5h28.4"/><path d="M411.9 636.6v23.9"/>
<path d="M365.1 549.2h26.3"/><path d="M378.3 535.9v26.7"/>
<path d="M377.1 585.2h21.5"/><path d="M387.8 578.7v13"/>
<path d="M255.9 344.3h23.1"/><path d="M267.5 326v36.6"/>
<path d="M244.9 269.1h11.5"/><path d="M250.6 262.6v13"/>
<path d="M378.1 597.1h11.9"/><path d="M384.1 581.9v30.4"/>
<path d="M258.4 297.6h21.2"/><path d="M269 282.3v30.7"/>
<path d="M263.9 299.4h18"/><path d="M272.9 286.8v25.3"/>
<path d="M332.5 440.9h30.1"/><path d="M347.6 429.8v22.1"/>
<path d="M352.4 450.7h18.3"/><path d="M361.6 443.4v14.6"/>
<path d="M312.2 430.9h19.8"/><path d="M322.1 417.6v26.5"/>
<path d="M408.1 613.3h11"/><path d="M413.6 600.7v25.2"/>
<path d="M373.5 596.2h29.1"/><path d="M388.1 577.1v38.3"/>
<path d="M294.7 365.3h40"/><path d="M314.7 353.8v22.9"/>
<path d="M410.4 655.9h11"/><path d="M415.9 642.2v27.4"/>
<path d="M365.7 575.7h26.8"/><path d="M379.1 558v35.4"/>
<path d="M364.9 610.9h30.5"/><path d="M380.1 601.8v18.2"/>
<path d="M372.8 601.8h31.5"/><path d="M388.6 590.3v23"/>
<path d="M247 274.5h19.1"/><path d="M256.6 265.3v18.3"/>
<path d="M354.2 467.8h16.8"/><path d="M362.6 451.2v33.2"/>
<path d="M307.4 338.9h15.2"/><path d="M315 327.6v22.6"/>
<path d="M393 579.7h21.8"/><path d="M403.9 560.9v37.5"/>
<path d="M289.4 383.8h11"/><path d="M294.9 368.4v30.8"/>
<path d="M372.9 590.5h30.5"/><path d="M388.1 581.9v17.2"/>
<path d="M379.4 590.4h17.5"/><path d="M388.1 575.2v30.5"/>
<path d="M329.2 496.8h23.4"/><path d="M340.8 487.6v18.5"/>
<path d="M315.4 469.8h25.5"/><path d="M328.2 460v19.6"/>
<path d="M256.9 286.5h18.6"/><path d="M266.2 274.9v23.3"/>
<path d="M322.8 507.9h22.8"/><path d="M334.1 489.2v37.3"/>
<path d="M251.5 267.6h12.3"/><path d="M257.7 255v25"/>
<path d="M404.7 609.4h21.6"/><path d="M415.5 590.5v37.8"/>
<path d="M355 567.5h11"/><path d="M360.5 553v29"/>
<path d="M349.2 452.4h11"/><path d="M354.7 430.1v44.7"/>
<path d="M303.4 414h23.7"/><path d="M315.2 401.7v24.5"/>
<path d="M256.9 259.6h18"/><path d="M265.9 239.5v40.2"/>
<path d="M317.6 477.1h21.3"/><path d="M328.3 462.2v29.8"/>
<path d="M406.5 652.9h20.9"/><path d="M417 646.4v13.1"/>
<path d="M370.3 608.5h21.4"/><path d="M381 602v13"/>
<path d="M326.6 451.8h13.8"/><path d="M333.4 445.3v13"/>
<path d="M313.6 393.4h21.1"/><path d="M324.2 381v24.9"/>
<path d="M294.7 371.9h23.8"/><path d="M306.6 365v13.9"/>
<path d="M423.1 633.7h19.5"/><path d="M432.8 615.9v35.6"/>
<path d="M247 299.4h22.4"/><path d="M258.2 284.4v30.2"/>
<path d="M346.6 480.1h27"/><path d="M360.1 473.6v13"/>
<path d="M308.1 430.9h21.5"/><path d="M318.9 418.4v24.9"/>
<path d="M402.9 626.8h21"/><path d="M413.4 611.3v30.9"/>
<path d="M368.4 567.6h11"/><path d="M373.9 554.1v26.9"/>
<path d="M378.3 576.7h22.5"/><path d="M389.6 565.3v22.9"/>
<path d="M361.3 591.8h18.8"/><path d="M370.7 570.9v41.8"/>
<path d="M355.5 441h13.7"/><path d="M362.4 429.8v22.4"/>
<path d="M317.6 457.3h27.4"/><path d="M331.3 445.5v23.7"/>
<path d="M406.8 648.5h23.7"/><path d="M418.6 640.1v16.9"/>
<path d="M348.8 470.5h24.4"/><path d="M361 462.8v15.3"/>
<path d="M260.7 288h11"/><path d="M266.2 275.3v25.4"/>
<path d="M260.8 349.6h48.8"/><path d="M285.2 340.5v18.2"/>
<path d="M307.6 431.9h15.2"/><path d="M315.2 417.4v28.9"/>
<path d="M346.7 489.7h14.3"/><path d="M353.8 474.4v30.7"/>
<path d="M305.6 369.5h19.3"/><path d="M315.2 361.9v15.2"/>
<path d="M407.5 606.9h28.2"/><path d="M421.6 599.6v14.6"/>
<path d="M375.7 557.8h19.3"/><path d="M385.4 546.4v22.7"/>
<path d="M291 404.5h26.2"/><path d="M304.1 396v16.9"/>
<path d="M379.7 560.8h22.2"/><path d="M390.8 548.8v23.9"/>
<path d="M289.3 364.1h18.9"/><path d="M298.8 356.9v14.4"/>
<path d="M360 547.2h26.3"/><path d="M373.2 531.9v30.5"/>
<path d="M312.4 411.6h20.5"/><path d="M322.7 392.6v37.9"/>
<path d="M278.3 375.5h19.5"/><path d="M288.1 363v25"/>
<path d="M333.9 398.2h38.1"/><path d="M352.9 386v24.4"/>
<path d="M314.7 445.6h21.3"/><path d="M325.4 438.1v15.1"/>
<path d="M390.7 565.3h26.5"/><path d="M403.9 554.7v21.1"/>
<path d="M310.3 388.3h11.2"/><path d="M316 377.1v22.4"/>
<path d="M391.5 590.6h22.1"/><path d="M402.5 578.7v23.7"/>
<path d="M382.9 551h17.7"/><path d="M391.8 538.3v25.6"/>
<path d="M417.9 611.1h14.7"/><path d="M425.2 598.2v25.7"/>
<path d="M327.6 455.3h26.2"/><path d="M340.7 448.8v13"/>
<path d="M272.2 391.2h22.5"/><path d="M283.5 381.7v19"/>
<path d="M279.7 365.6h15"/><path d="M287.2 350.8v29.7"/>
<path d="M344.4 495.7h17.7"/><path d="M353.3 487.8v15.8"/>
<path d="M346.3 527.5h18.7"/><path d="M355.6 516.3v22.4"/>
<path d="M387.7 590.5h14.1"/><path d="M394.8 574.5v32"/>
<path d="M372.8 499.1h15.4"/><path d="M380.5 475.1v48.2"/>
<path d="M256.1 285.8h22.8"/><path d="M267.5 275.7v20.3"/>
<path d="M372 487.1h16"/><path d="M380 473.3v27.8"/>
<path d="M274.5 378.2h18.6"/><path d="M283.9 362.1v32.1"/>
<path d="M331.9 392.6h18.8"/><path d="M341.3 382.7v19.9"/>
<path d="M331.5 439h13.6"/><path d="M338.3 428.3v21.4"/>
<path d="M323.1 463.8h17.1"/><path d="M331.6 449.8v28"/>
<path d="M334.8 541.9h11.8"/><path d="M340.7 521.9v39.9"/>
<path d="M322.2 402.7h35.8"/><path d="M340.1 385.5v34.4"/>
<path d="M313.1 488.4h33.6"/><path d="M329.9 474.8v27.2"/>
<path d="M357.2 518.9h19.5"/><path d="M367 505.7v26.4"/>
<path d="M314.5 470.4h29.2"/><path d="M329.1 462.6v15.5"/>
<path d="M263.8 343.7h27.5"/><path d="M277.5 321.2v45.1"/>
<path d="M366.3 521.3h27.3"/><path d="M379.9 501.7v39.2"/>
<path d="M378.7 579.3h21.7"/><path d="M389.5 569.7v19.2"/>
<path d="M218.1 275h37.4"/><path d="M236.8 258.8v32.4"/>
<path d="M395.7 601.7h16.5"/><path d="M403.9 594.7v13.9"/>
<path d="M304.2 405.9h20.5"/><path d="M314.5 388.4v34.8"/>
<path d="M321.4 459.9h23.2"/><path d="M333 446.9v26"/>
<path d="M379.6 537.3h12.3"/><path d="M385.7 520.6v33.5"/>
<path d="M332.7 514h16.5"/><path d="M340.9 493.1v41.7"/>
<path d="M400.2 601.6h11"/><path d="M405.7 584.4v34.4"/>
<path d="M371.7 546h19.6"/><path d="M381.5 537.2v17.6"/>
<path d="M356.1 524.3h22.2"/><path d="M367.2 507.6v33.3"/>
<path d="M312 358.5h23.6"/><path d="M323.8 351.4v14.3"/>
<path d="M421.6 634.9h30.3"/><path d="M436.8 622.3v25.4"/>
<path d="M370.2 530.3h22"/><path d="M381.2 520v20.7"/>
<path d="M378.5 602h30.3"/><path d="M393.7 583.8v36.4"/>
<path d="M311.9 355.9h28.4"/><path d="M326.1 343v25.9"/>
<path d="M390.3 585.6h17.5"/><path d="M399 571v29.3"/>
<path d="M358.8 451.3h19.8"/><path d="M368.8 444.8v13"/>
<path d="M281.7 358.8h11"/><path d="M287.2 346.7v24.2"/>
<path d="M287.7 379h21.8"/><path d="M298.6 359.1v39.9"/>
<path d="M307.2 384.2h11"/><path d="M312.7 377.7v13"/>
<path d="M312.5 508.8h36.4"/><path d="M330.7 498.7v20.3"/>
<path d="M356.2 573.1h17.6"/><path d="M365 566.6v13"/>
<path d="M230.1 270.2h23.9"/><path d="M242.1 260.4v19.6"/>
<path d="M353.9 572h17.9"/><path d="M362.8 553.4v37.3"/>
<path d="M381.9 491.7h12.2"/><path d="M388 477.9v27.7"/>
<path d="M391 599.9h34"/><path d="M408 584v31.8"/>
<path d="M395.6 560.9h18.9"/><path d="M405 550.1v21.5"/>
<path d="M350.7 575.4h27.1"/><path d="M364.2 563v24.8"/>
<path d="M250 276.5h20.1"/><path d="M260 269.6v13.8"/>
<path d="M300.9 378.1h18.9"/><path d="M310.4 359v38.2"/>
<path d="M241.7 264.4h17.5"/><path d="M250.4 251.2v26.4"/>
<path d="M336.7 484.9h29.5"/><path d="M351.5 470.7v28.2"/>
<path d="M372.9 524.2h21.7"/><path d="M383.8 513v22.3"/>
<path d="M244.5 285.6h22.8"/><path d="M255.9 266.4v38.3"/>
<path d="M399.4 605.8h23.2"/><path d="M411 598.4v14.8"/>
<path d="M403.4 631.7h40.6"/><path d="M423.7 612.6v38.1"/>
<path d="M303.3 399.9h20.6"/><path d="M313.7 385.6v28.6"/>
<path d="M347 503.8h24.6"/><path d="M359.3 497.2v13.3"/>
<path d="M268.1 332.7h14.5"/><path d="M275.3 314.1v37.3"/>
<path d="M319.2 490.9h16.6"/><path d="M327.5 476.3v29.2"/>
<path d="M404.3 514.9h19.4"/><path d="M414 501.5v26.7"/>
<path d="M364.8 570.1h18.8"/><path d="M374.2 557.3v25.5"/>
<path d="M260.1 276.5h19.5"/><path d="M269.8 261.1v30.7"/>
<path d="M331.1 545h29.7"/><path d="M345.9 538.5v13"/>
<path d="M266.9 300.8h21.2"/><path d="M277.5 284.9v31.8"/>
<path d="M372.2 560.3h12.9"/><path d="M378.6 553.8v13"/>
<path d="M386.2 545.5h12.5"/><path d="M392.5 534.1v22.8"/>
<path d="M336.2 483.6h28.4"/><path d="M350.4 466.6v34"/>
<path d="M402.3 621.6h22"/><path d="M413.3 606.2v30.9"/>
<path d="M298 373.8h19.4"/><path d="M307.7 363.1v21.2"/>
<path d="M352.4 482.6h18.9"/><path d="M361.9 464.1v37"/>
<path d="M318.5 390.4h29.1"/><path d="M333 374.9v31"/>
<path d="M358.3 529.8h19.4"/><path d="M368 516.5v26.6"/>
<path d="M357.4 531h11"/><path d="M362.9 524.5v13"/>
<path d="M353.6 457.5h20.8"/><path d="M364 447.2v20.6"/>
<path d="M395.1 637.2h23.2"/><path d="M406.6 626.9v20.7"/>
<path d="M266.6 296.3h22.8"/><path d="M277.9 282.6v27.4"/>
<path d="M374.9 552.4h16.9"/><path d="M383.4 538.2v28.4"/>
<path d="M305.1 445.5h28"/><path d="M319.1 432.6v25.7"/>
<path d="M262.7 311.6h20.5"/><path d="M273 298.3v26.5"/>
<path d="M319.6 440h19.3"/><path d="M329.3 423.7v32.5"/>
<path d="M290.4 421.9h17.3"/><path d="M299.1 410.4v22.9"/>
<path d="M449.4 670.2h30.3"/><path d="M464.5 647v46.4"/>
<path d="M462.2 657.2h19.7"/><path d="M472 649v16.3"/>
<path d="M450.9 660.2h19.3"/><path d="M460.6 647.3v25.8"/>
<path d="M441.3 660.3h30.9"/><path d="M456.8 651.8v17"/>
<path d="M450.7 670.5h24.9"/><path d="M463.2 654.7v31.6"/>
<path d="M455.9 650.4h25.1"/><path d="M468.4 630v40.7"/>
<path d="M450.7 664.4h11"/><path d="M456.2 649.7v29.5"/>
<path d="M444.4 659.1h30.2"/><path d="M459.5 650.9v16.4"/>
<path d="M454.1 667.5h16.4"/><path d="M462.3 659.5v15.9"/>
<path d="M466.8 661.9h17.2"/><path d="M475.4 655.3v13.3"/>
<path d="M474.4 653.8h12.5"/><path d="M480.7 646.1v15.3"/>
<path d="M365.2 590.7h25"/><path d="M377.6 580.1v21.2"/>
<path d="M377.9 591.6h27.7"/><path d="M391.7 578.7v25.9"/>
<path d="M375.7 592.4h29.9"/><path d="M390.6 585.9v13"/>
<path d="M395.2 590.4h11"/><path d="M400.7 583.9v13"/>
<path d="M370.3 591.8h25.5"/><path d="M383 582.7v18.2"/>
<path d="M370.3 588h18.3"/><path d="M379.5 570.6v34.9"/>
<path d="M367 593.5h24.7"/><path d="M379.3 581.7v23.7"/>
<path d="M375.4 587.9h16.3"/><path d="M383.6 575.9v24"/>
<path d="M374.5 591.8h15.1"/><path d="M382 584.5v14.5"/>
<path d="M389.1 597.8h23.6"/><path d="M400.9 584.5v26.7"/>
<path d="M365.1 587.2h24.6"/><path d="M377.4 580.7v13"/>
<path d="M370.7 582.1h26.5"/><path d="M384 566.9v30.3"/>
<path d="M377.7 587.3h17.1"/><path d="M386.3 569.3v36"/>
<path d="M362 589.5h22.3"/><path d="M373.2 577.1v24.9"/>
<path d="M379.5 586.2h19.8"/><path d="M389.4 573.9v24.5"/>
<path d="M368.7 594.6h28.2"/><path d="M382.8 582.2v24.8"/>
<path d="M374.3 602.7h19.6"/><path d="M384.2 589v27.3"/>
<path d="M366.1 592h33.4"/><path d="M382.8 574.6v34.8"/>
<path d="M364.5 584h12.2"/><path d="M370.6 566.1v35.8"/>
<path d="M380.5 584.9h25.5"/><path d="M393.2 566.3v37.2"/>
<path d="M379.9 592.2h29.5"/><path d="M394.6 579.1v26.2"/>
<path d="M373.4 584.7h19.7"/><path d="M383.2 577v15.5"/>
<path d="M353.3 585.8h27.6"/><path d="M367.1 570.5v30.5"/>
<path d="M356.7 576.3h32.6"/><path d="M373 569.8v13"/>
<path d="M370.7 589.8h16.2"/><path d="M378.8 579.1v21.4"/>
<path d="M368.5 590.8h17.7"/><path d="M377.4 584.3v13"/>
<path d="M376.4 590.2h22.4"/><path d="M387.6 576v28.4"/>
<path d="M358.3 585.1h11"/><path d="M363.8 569v32.2"/>
<path d="M373.4 590.4h17.9"/><path d="M382.4 578.4v24"/>
<path d="M365.3 572.7h21.5"/><path d="M376.1 556.6v32.1"/>
<path d="M382.2 571.5h18.2"/><path d="M391.3 561.2v20.7"/>
<path d="M398.4 592.2h18"/><path d="M407.4 581.6v21.1"/>
<path d="M363.9 581.2h31.4"/><path d="M379.6 563.7v35"/>
<path d="M367.1 582.3h15.5"/><path d="M374.8 572.1v20.4"/>
<path d="M378.5 591h27.6"/><path d="M392.3 581.6v18.9"/>
<path d="M426.3 681.7h25.7"/><path d="M439.1 662v39.5"/>
<path d="M421.6 666.1h14.2"/><path d="M428.7 653.7v24.8"/>
<path d="M431.2 685.3h21.4"/><path d="M441.9 673.1v24.4"/>
<path d="M420 677.2h29.4"/><path d="M434.7 663.2v28"/>
<path d="M420.4 671.7h33.2"/><path d="M437 646.2v51"/>
<path d="M418.2 681h22.3"/><path d="M429.4 664.7v32.6"/>
<path d="M413.7 663.6h19.7"/><path d="M423.6 648.1v30.9"/>
<path d="M449.6 687.7h17.3"/><path d="M458.2 672.4v30.5"/>
<path d="M447.3 692.1h17.2"/><path d="M455.9 685.6v13"/>
<path d="M443.1 699.1h36.5"/><path d="M461.3 687.1v23.9"/>
<path d="M447.3 700.3h14.7"/><path d="M454.7 685v30.7"/>
<path d="M459.8 700.7h11.7"/><path d="M465.7 684.8v31.7"/>
<path d="M469 679.9h16.7"/><path d="M477.3 667.8v24.1"/>
<path d="M467.2 681.7h21.4"/><path d="M477.8 665.9v31.6"/>
<path d="M439 625.6h16"/><path d="M447 618.7v13.7"/>
<path d="M435.4 623.6h24"/><path d="M447.4 617.1v13"/>
<path d="M448.3 616.3h25.3"/><path d="M460.9 609.8v13"/>
<path d="M437.3 624.6h30"/><path d="M452.3 615.7v17.9"/>
<path d="M442.9 629.6h21.9"/><path d="M453.8 619v21.1"/>
<path d="M446 621.5h12.7"/><path d="M452.4 605.2v32.8"/>
<path d="M421.1 615.8h23.8"/><path d="M432.9 597.4v36.7"/>
<path d="M418.4 587.7h14"/><path d="M425.4 577v21.5"/>
<path d="M392.5 586.4h32.9"/><path d="M408.9 579.9v13"/>
<path d="M412.1 589h34.6"/><path d="M429.4 578.3v21.4"/>
<path d="M426.7 592.9h12.2"/><path d="M432.8 579.6v26.6"/>
<path d="M429.8 613h20.2"/><path d="M439.9 603v20"/>
<path d="M434.8 611.1h41.4"/><path d="M455.5 599.2v23.8"/>
<path d="M404.8 590h21.4"/><path d="M415.5 577.9v24.2"/>
<path d="M416.5 588h11"/><path d="M422 574.4v27.2"/>
<path d="M434.2 613h15.8"/><path d="M442.1 604v18"/>
<path d="M417.5 612.7h21.3"/><path d="M428.1 605.8v13.9"/>
<path d="M438.5 620.3h13.6"/><path d="M445.3 607.4v25.8"/>
<path d="M428.1 623.5h31.8"/><path d="M444 617v13"/>
<path d="M224.9 419.6h42"/><path d="M245.9 404.1v31"/>
<path d="M501.1 688.3h18"/><path d="M510.1 669.3v38"/>
<path d="M491.4 706.3h15"/><path d="M498.9 695.3v22"/>
<path d="M413 519h32"/><path d="M429 491v56"/>
<path d="M411 533h24"/><path d="M423 519v28"/>
<path d="M408 544h24"/><path d="M420 528v32"/>
<path d="M327 584h28"/><path d="M341 567v34"/>
<path d="M327 592h30"/><path d="M342 584v16"/>
<path d="M463 645.6h24"/><path d="M475 626.6v38"/>
<path d="M260 342h26"/><path d="M273 327v30"/>
</g>
<path clip-path="url(#c1)" d="M167.6 151.5L512 780" stroke="#2a48ff" stroke-width="7.2" fill="none"/>
<rect x="374.1" y="72.4" width="142.8" height="44.6" rx="6" fill="#fff" stroke="#111" stroke-width="1.45"/>
<text class="b6" x="447.4" y="105.2" font-size="28.6" text-anchor="middle" fill="#000">R = &#8722;0.94</text>
<path d="M220.5 772v10.2M314.4 772v10.2M408.3 772v10.2M502.2 772v10.2M135.8 740.7h-10.2M135.8 577.6h-10.2M135.8 414.5h-10.2M135.8 251.4h-10.2M135.8 88.3h-10.2" stroke="#262626" stroke-width="3.3" fill="none"/>
<rect x="135.8" y="56.7" width="400.6" height="715.3" fill="none" stroke="#1a1a1a" stroke-width="1.85"/>
<g class="bt" font-size="27" fill="#363636" stroke="#363636">
<text x="220.5" y="809.4" text-anchor="middle">0.3</text>
<text x="314.4" y="809.4" text-anchor="middle">0.5</text>
<text x="408.3" y="809.4" text-anchor="middle">0.7</text>
<text x="502.2" y="809.4" text-anchor="middle">0.9</text>
<text x="117.6" y="750.5" text-anchor="end">0</text>
<text x="117.6" y="587.4" text-anchor="end">25</text>
<text x="117.6" y="424.3" text-anchor="end">50</text>
<text x="117.6" y="261.2" text-anchor="end">75</text>
<text x="117.6" y="98.1" text-anchor="end">100</text>
</g>
<text class="b8" x="336.2" y="29.4" font-size="36.4" text-anchor="middle" fill="#000" textLength="289.8" lengthAdjust="spacingAndGlyphs">All Country-Years</text>
<text class="b7" x="336.2" y="845.6" font-size="29.7" text-anchor="middle" fill="#000" textLength="152.6" lengthAdjust="spacingAndGlyphs">PGE Score</text>
<text class="b7" transform="translate(24.5 730.2) rotate(-90)" font-size="29.7" fill="#000" textLength="630.0" lengthAdjust="spacingAndGlyphs">Percentage Agreeing That "On the Whole, Men</text>
<text class="b7" transform="translate(57.4 730.3) rotate(-90)" font-size="29.7" fill="#000" textLength="631.9" lengthAdjust="spacingAndGlyphs">Make Better Political Leaders than Women Do"</text>
<clipPath id="c2"><rect x="692" y="56.7" width="401.3" height="715.3"/></clipPath>
<g clip-path="url(#c2)">
<path d="M725.9 56.7V772M834.7 56.7V772M943.5 56.7V772M1052.3 56.7V772M692 657.6H1093.3M692 476.9H1093.3M692 296.2H1093.3M692 115.5H1093.3" stroke="#ececec" stroke-width="1.7" fill="none"/>
<path d="M780.3 56.7V772M889.1 56.7V772M997.9 56.7V772M692 747.9H1093.3M692 567.2H1093.3M692 386.5H1093.3M692 205.9H1093.3" stroke="#e4e4e4" stroke-width="3.3" fill="none"/>
</g>
<g clip-path="url(#c2)" stroke="#000" stroke-opacity="0.2" stroke-width="3.2" fill="none">
<path d="M751.5 146.5h32"/><path d="M767.5 98.5v96"/>
<path d="M733 158h34"/><path d="M750 120v76"/>
<path d="M781.5 178h42"/><path d="M802.5 135v86"/>
<path d="M773.5 227.5h60"/><path d="M803.5 204.5v46"/>
<path d="M782.7 281.5h56"/><path d="M810.7 253.5v56"/>
<path d="M746.7 292.6h27"/><path d="M760.2 264.6v56"/>
<path d="M769.6 312.3h46"/><path d="M792.6 286.8v51"/>
<path d="M903.5 285.4h33"/><path d="M920 253.4v64"/>
<path d="M794 354.5h32"/><path d="M810 327.5v54"/>
<path d="M803.3 361.5h34"/><path d="M820.3 329.5v64"/>
<path d="M828 353.6h28"/><path d="M842 329.6v48"/>
<path d="M837.9 351.2h44"/><path d="M859.9 324.2v54"/>
<path d="M709.1 389.5h32"/><path d="M725.1 362.5v54"/>
<path d="M854.2 414.2h40"/><path d="M874.2 380.2v68"/>
<path d="M841.5 424.3h56"/><path d="M869.5 402.3v44"/>
<path d="M879.8 431.7h48"/><path d="M903.8 407.7v48"/>
<path d="M904.8 453.4h44"/><path d="M926.8 419.4v68"/>
<path d="M913.5 467h60"/><path d="M943.5 441v52"/>
<path d="M916 467h66"/><path d="M949 441v52"/>
<path d="M869.3 487.6h20"/><path d="M879.3 473.6v28"/>
<path d="M912.5 495.7h40"/><path d="M932.5 474.7v42"/>
<path d="M899 501h42"/><path d="M920 480v42"/>
<path d="M871.1 503.1h56"/><path d="M899.1 484.1v38"/>
<path d="M932.8 504.4h38"/><path d="M951.8 483.4v42"/>
<path d="M855.9 513.5h38"/><path d="M874.9 491.5v44"/>
<path d="M893.7 535.3h44"/><path d="M915.7 509.3v52"/>
<path d="M848.3 537.5h16"/><path d="M856.3 518.5v38"/>
<path d="M863 569.4h44"/><path d="M885 556.4v26"/>
<path d="M943 584.8h40"/><path d="M963 572.8v24"/>
<path d="M972.3 588.5h44"/><path d="M994.3 574.5v28"/>
<path d="M930.7 601h40"/><path d="M950.7 590v22"/>
<path d="M962.6 602.8h40"/><path d="M982.6 590.8v24"/>
<path d="M920.4 614.4h40"/><path d="M940.4 601.4v26"/>
<path d="M904.1 618.3h44"/><path d="M926.1 603.3v30"/>
<path d="M1012.8 616.2h34"/><path d="M1029.8 602.2v28"/>
<path d="M958.3 635.2h34"/><path d="M975.3 619.2v32"/>
<path d="M936.7 642.4h40"/><path d="M956.7 623.4v38"/>
<path d="M957.3 645.5h36"/><path d="M975.3 631.5v28"/>
<path d="M997.9 649.4h30"/><path d="M1012.9 636.4v26"/>
<path d="M978.5 652.8h28"/><path d="M992.5 642.8v20"/>
<path d="M987 656.5h28"/><path d="M1001 644.5v24"/>
<path d="M955 666.8h34"/><path d="M972 655.8v22"/>
<path d="M983.2 667h30"/><path d="M998.2 657v20"/>
<path d="M947.6 672h40"/><path d="M967.6 660v24"/>
<path d="M1027.1 687h26"/><path d="M1040.1 675v24"/>
<path d="M1057.8 724.6h14"/><path d="M1064.8 718.6v12"/>
</g>
<g class="b4" font-size="19.5" fill="#000" text-anchor="middle">
<text x="767.5" y="153.5">PS</text>
<text x="750" y="165">ML</text>
<text x="802.5" y="185">KW</text>
<text x="803.5" y="234.5">PK</text>
<text x="810.7" y="288.5">BD</text>
<text x="760.2" y="299.6">JO</text>
<text x="792.6" y="319.3">NG</text>
<text x="920" y="292.4">ET</text>
<text x="810" y="361.5">MY</text>
<text x="820.3" y="368.5">GH</text>
<text x="842" y="360.6">ID</text>
<text x="859.9" y="358.2">RU</text>
<text x="725.1" y="396.5">EG</text>
<text x="874.2" y="421.2">JA</text>
<text x="869.5" y="431.3">TN</text>
<text x="903.8" y="438.7">LB</text>
<text x="926.8" y="460.4">BG</text>
<text x="943.5" y="474">CI</text>
<text x="949" y="474">IL</text>
<text x="879.3" y="494.6">CN</text>
<text x="932.5" y="502.7">ZA</text>
<text x="920" y="508">KE</text>
<text x="899.1" y="510.1">UG</text>
<text x="951.8" y="511.4">CL</text>
<text x="874.9" y="520.5">KR</text>
<text x="915.7" y="542.3">PL</text>
<text x="856.3" y="544.5">MA</text>
<text x="885" y="576.4">IN</text>
<text x="963" y="591.8">AR</text>
<text x="994.3" y="595.5">TZ</text>
<text x="950.7" y="608">JP</text>
<text x="982.6" y="609.8">US</text>
<text x="940.4" y="621.4">SK</text>
<text x="926.1" y="625.3">CZ</text>
<text x="1029.8" y="623.2">FR</text>
<text x="975.3" y="642.2">MX</text>
<text x="956.7" y="649.4">IT</text>
<text x="975.3" y="652.5">VE</text>
<text x="1012.9" y="656.4">DE</text>
<text x="992.5" y="659.8">CA</text>
<text x="1001" y="663.5">CH</text>
<text x="972" y="673.8">PE</text>
<text x="998.2" y="674">GB</text>
<text x="967.6" y="679">BO</text>
<text x="1040.1" y="694">ES</text>
<text x="1064.8" y="731.6">SE</text>
</g>
<path clip-path="url(#c2)" d="M725.4 190.9L1062.8 740.4" stroke="#2a48ff" stroke-width="7.2" fill="none"/>
<rect x="926.4" y="66" width="142.4" height="44.6" rx="6" fill="#fff" stroke="#111" stroke-width="1.45"/>
<text class="b6" x="999.9" y="98.7" font-size="28.6" text-anchor="middle" fill="#000">R = &#8722;0.85</text>
<path d="M780.3 772v10.2M889.1 772v10.2M997.9 772v10.2M692 747.9h-10.2M692 567.2h-10.2M692 386.5h-10.2M692 205.9h-10.2" stroke="#262626" stroke-width="3.3" fill="none"/>
<rect x="692" y="56.7" width="401.3" height="715.3" fill="none" stroke="#1a1a1a" stroke-width="1.85"/>
<g class="bt" font-size="27" fill="#363636" stroke="#363636">
<text x="780.3" y="809.4" text-anchor="middle">0.3</text>
<text x="889.1" y="809.4" text-anchor="middle">0.5</text>
<text x="997.9" y="809.4" text-anchor="middle">0.7</text>
<text x="673.8" y="757.7" text-anchor="end">0</text>
<text x="673.8" y="577" text-anchor="end">20</text>
<text x="673.8" y="396.3" text-anchor="end">40</text>
<text x="673.8" y="215.7" text-anchor="end">60</text>
</g>
<text class="b8" x="892.6" y="29.4" font-size="36.4" text-anchor="middle" fill="#000" textLength="401.1" lengthAdjust="spacingAndGlyphs">Pew Global Spring 2007</text>
<text class="b7" x="892.6" y="845.6" font-size="29.7" text-anchor="middle" fill="#000" textLength="152.6" lengthAdjust="spacingAndGlyphs">PGE Score</text>
<text class="b7" transform="translate(595.8 735.4) rotate(-90)" font-size="29.7" fill="#000" textLength="630.0" lengthAdjust="spacingAndGlyphs">Percentage Opining That "Men Generally Make</text>
<text class="b7" transform="translate(628.6 670.2) rotate(-90)" font-size="29.7" fill="#000" textLength="511.6" lengthAdjust="spacingAndGlyphs">Better Political Leaders Than Women"</text>
<clipPath id="c3"><rect x="1222.9" y="56.7" width="400.9" height="715.3"/></clipPath>
<g clip-path="url(#c3)">
<path d="M1262.2 56.7V772M1337 56.7V772M1411.7 56.7V772M1486.5 56.7V772M1561.2 56.7V772M1222.9 754H1623.8M1222.9 628H1623.8M1222.9 502H1623.8M1222.9 375.9H1623.8M1222.9 249.9H1623.8M1222.9 123.9H1623.8" stroke="#ececec" stroke-width="1.7" fill="none"/>
<path d="M1224.8 56.7V772M1299.6 56.7V772M1374.3 56.7V772M1449.1 56.7V772M1523.8 56.7V772M1598.6 56.7V772M1222.9 691H1623.8M1222.9 565H1623.8M1222.9 439H1623.8M1222.9 312.9H1623.8M1222.9 186.9H1623.8M1222.9 60.9H1623.8" stroke="#e4e4e4" stroke-width="3.3" fill="none"/>
</g>
<g clip-path="url(#c3)">
<path d="M1239.8 606L1247.3 588L1254.8 570L1262.2 561L1269.7 554L1277.2 550L1284.6 528L1292.1 507L1299.6 491L1307.1 473.7L1314.5 479.4L1322 456.9L1329.5 465.1L1337 441.6L1344.4 420.6L1351.9 411.9L1359.4 408.2L1366.9 394.6L1374.3 419.3L1381.8 369.9L1389.3 352L1396.8 338L1404.2 349.6L1411.7 355.2L1419.2 338.3L1426.7 324.1L1434.1 312.8L1441.6 311.4L1449.1 312.8L1456.6 287.4L1464 291.6L1471.5 286.8L1479 297.3L1486.5 290.8L1493.9 314.3L1501.4 307.8L1508.9 310L1516.4 274.7L1523.8 286L1531.3 281.2L1538.8 276.7L1546.3 258.6L1553.8 264.8L1561.2 237.9L1568.7 239.9L1576.2 226.6L1583.6 235.1L1591.1 244.4L1598.6 228L1606.1 196.4L1606.1 278.9L1598.6 317.6L1591.1 311.4L1583.6 297.3L1576.2 283.2L1568.7 307.2L1561.2 334.9L1553.8 342.5L1546.3 349.6L1538.8 327L1531.3 341.1L1523.8 350.4L1516.4 356.7L1508.9 366.5L1501.4 389.7L1493.9 375L1486.5 387.7L1479 372.2L1471.5 369.9L1464 360.9L1456.6 389.2L1449.1 384.9L1441.6 370.8L1434.1 377.9L1426.7 408.4L1419.2 406.1L1411.7 417.4L1404.2 408.9L1396.8 408.2L1389.3 421.8L1381.8 434.2L1374.3 480.6L1366.9 463.8L1359.4 472.5L1351.9 507.8L1344.4 509.6L1337 508.3L1329.5 552.8L1322 560L1314.5 575L1307.1 590.6L1299.6 593L1292.1 607L1284.6 622.4L1277.2 659L1269.7 670L1262.2 681.3L1254.8 688.4L1247.3 713L1239.8 739.1Z" fill="#000" fill-opacity="0.168"/>
<path d="M1254.8 486.4v82M1262.2 531v60M1277.2 526.5v60M1284.6 459.3v56M1314.5 374.5v66M1322 359.5v48M1337 395.3v52M1344.4 380.2v52M1359.4 331.4v44M1366.9 297v42M1374.3 246.4v56M1381.8 238.8v52M1396.8 179v48M1404.2 181.5v34M1419.2 193.3v34M1434.1 209.2v36M1449.1 210.6v36M1464 184.2v52M1479 226.8v56M1493.9 216.3v36M1508.9 239v46M1523.8 184.3v40M1538.8 171.1v40M1553.8 160.7v32M1568.7 154.6v32M1583.6 88.3v30" stroke="#000" stroke-opacity="0.2" stroke-width="3.2" fill="none"/>
<path d="M1254.8 527.4L1262.2 561L1277.2 556.5L1284.6 487.3L1314.5 407.5L1322 383.5L1337 421.3L1344.4 406.2L1359.4 353.4L1366.9 318L1374.3 274.4L1381.8 264.8L1396.8 203L1404.2 198.5L1419.2 210.3L1434.1 227.2L1449.1 228.6L1464 210.2L1479 254.8L1493.9 234.3L1508.9 262L1523.8 204.3L1538.8 191.1L1553.8 176.7L1568.7 170.6L1583.6 103.3" stroke="#444" stroke-width="3.6" stroke-dasharray="3.59 10.76" fill="none"/>
<circle cx="1254.8" cy="527.4" r="4.1" fill="#000"/>
<circle cx="1262.2" cy="561" r="4.1" fill="#000"/>
<circle cx="1277.2" cy="556.5" r="4.1" fill="#000"/>
<circle cx="1284.6" cy="487.3" r="4.1" fill="#000"/>
<circle cx="1314.5" cy="407.5" r="4.1" fill="#000"/>
<circle cx="1322" cy="383.5" r="4.1" fill="#000"/>
<circle cx="1337" cy="421.3" r="4.1" fill="#000"/>
<circle cx="1344.4" cy="406.2" r="4.1" fill="#000"/>
<circle cx="1359.4" cy="353.4" r="4.1" fill="#000"/>
<circle cx="1366.9" cy="318" r="4.1" fill="#000"/>
<circle cx="1374.3" cy="274.4" r="4.1" fill="#000"/>
<circle cx="1381.8" cy="264.8" r="4.1" fill="#000"/>
<circle cx="1396.8" cy="203" r="4.1" fill="#000"/>
<circle cx="1404.2" cy="198.5" r="4.1" fill="#000"/>
<circle cx="1419.2" cy="210.3" r="4.1" fill="#000"/>
<circle cx="1434.1" cy="227.2" r="4.1" fill="#000"/>
<circle cx="1449.1" cy="228.6" r="4.1" fill="#000"/>
<circle cx="1464" cy="210.2" r="4.1" fill="#000"/>
<circle cx="1479" cy="254.8" r="4.1" fill="#000"/>
<circle cx="1493.9" cy="234.3" r="4.1" fill="#000"/>
<circle cx="1508.9" cy="262" r="4.1" fill="#000"/>
<circle cx="1523.8" cy="204.3" r="4.1" fill="#000"/>
<circle cx="1538.8" cy="191.1" r="4.1" fill="#000"/>
<circle cx="1553.8" cy="176.7" r="4.1" fill="#000"/>
<circle cx="1568.7" cy="170.6" r="4.1" fill="#000"/>
<circle cx="1583.6" cy="103.3" r="4.1" fill="#000"/>
<path d="M1239.8 671.9L1247.3 650L1254.8 628.3L1262.2 619L1269.7 610.7L1277.2 610.2L1284.6 573L1292.1 557.5L1299.6 542.9L1307.1 531.8L1314.5 526.1L1322 509.1L1329.5 511.3L1337 476.2L1344.4 467.5L1351.9 460.1L1359.4 440.3L1366.9 427.5L1374.3 451.5L1381.8 400.8L1389.3 383.5L1396.8 369.9L1404.2 380.5L1411.7 386L1419.2 372L1426.7 367.1L1434.1 345.3L1441.6 341.1L1449.1 350.4L1456.6 338.3L1464 325.6L1471.5 330.6L1479 334L1486.5 338.3L1493.9 343.4L1501.4 348.2L1508.9 337.7L1516.4 315.7L1523.8 317.6L1531.3 309.5L1538.8 301L1546.3 303L1553.8 304.9L1561.2 285.1L1568.7 275.5L1576.2 252.9L1583.6 266.2L1591.1 279.5L1598.6 271.9L1606.1 237.4" stroke="#000" stroke-width="3.8" stroke-linejoin="round" fill="none"/>
</g>
<g class="b4" font-size="19.5" fill="#000" text-anchor="middle"><text x="1296.7" y="320.2">US GSS</text><text x="1539" y="445.3">PGE</text></g>
<rect x="1233" y="76.4" width="133.5" height="44.7" rx="6" fill="#fff" stroke="#111" stroke-width="1.45"/>
<text class="b6" x="1299.1" y="109.5" font-size="28.6" text-anchor="middle" fill="#000">R = 0.94</text>
<path d="M1224.8 772v10.2M1299.6 772v10.2M1374.3 772v10.2M1449.1 772v10.2M1523.8 772v10.2M1598.6 772v10.2M1222.9 691h-10.2M1222.9 565h-10.2M1222.9 439h-10.2M1222.9 312.9h-10.2M1222.9 186.9h-10.2M1222.9 60.9h-10.2" stroke="#262626" stroke-width="3.3" fill="none"/>
<rect x="1222.9" y="56.7" width="400.9" height="715.3" fill="none" stroke="#1a1a1a" stroke-width="1.85"/>
<g class="bt" font-size="27" fill="#363636" stroke="#363636">
<text x="1224.8" y="809.4" text-anchor="middle">1970</text>
<text x="1299.6" y="809.4" text-anchor="middle">1980</text>
<text x="1374.3" y="809.4" text-anchor="middle">1990</text>
<text x="1449.1" y="809.4" text-anchor="middle">2000</text>
<text x="1523.8" y="809.4" text-anchor="middle">2010</text>
<text x="1598.6" y="809.4" text-anchor="middle">2020</text>
<text x="1204.7" y="700.8" text-anchor="end">0.4</text>
<text x="1204.7" y="574.8" text-anchor="end">0.5</text>
<text x="1204.7" y="448.8" text-anchor="end">0.6</text>
<text x="1204.7" y="322.7" text-anchor="end">0.7</text>
<text x="1204.7" y="196.7" text-anchor="end">0.8</text>
<text x="1204.7" y="70.7" text-anchor="end">0.9</text>
</g>
<text class="b8" x="1423.3" y="29.4" font-size="36.4" text-anchor="middle" fill="#000" textLength="223.3" lengthAdjust="spacingAndGlyphs">United States</text>
<text class="b7" x="1423.3" y="845.6" font-size="29.7" text-anchor="middle" fill="#000" textLength="61.6" lengthAdjust="spacingAndGlyphs">Year</text>
<text class="b7" transform="translate(1152.3 454.9) rotate(-90)" font-size="29.7" fill="#000" textLength="79.7" lengthAdjust="spacingAndGlyphs">Score</text>
</svg>
</body></html>
